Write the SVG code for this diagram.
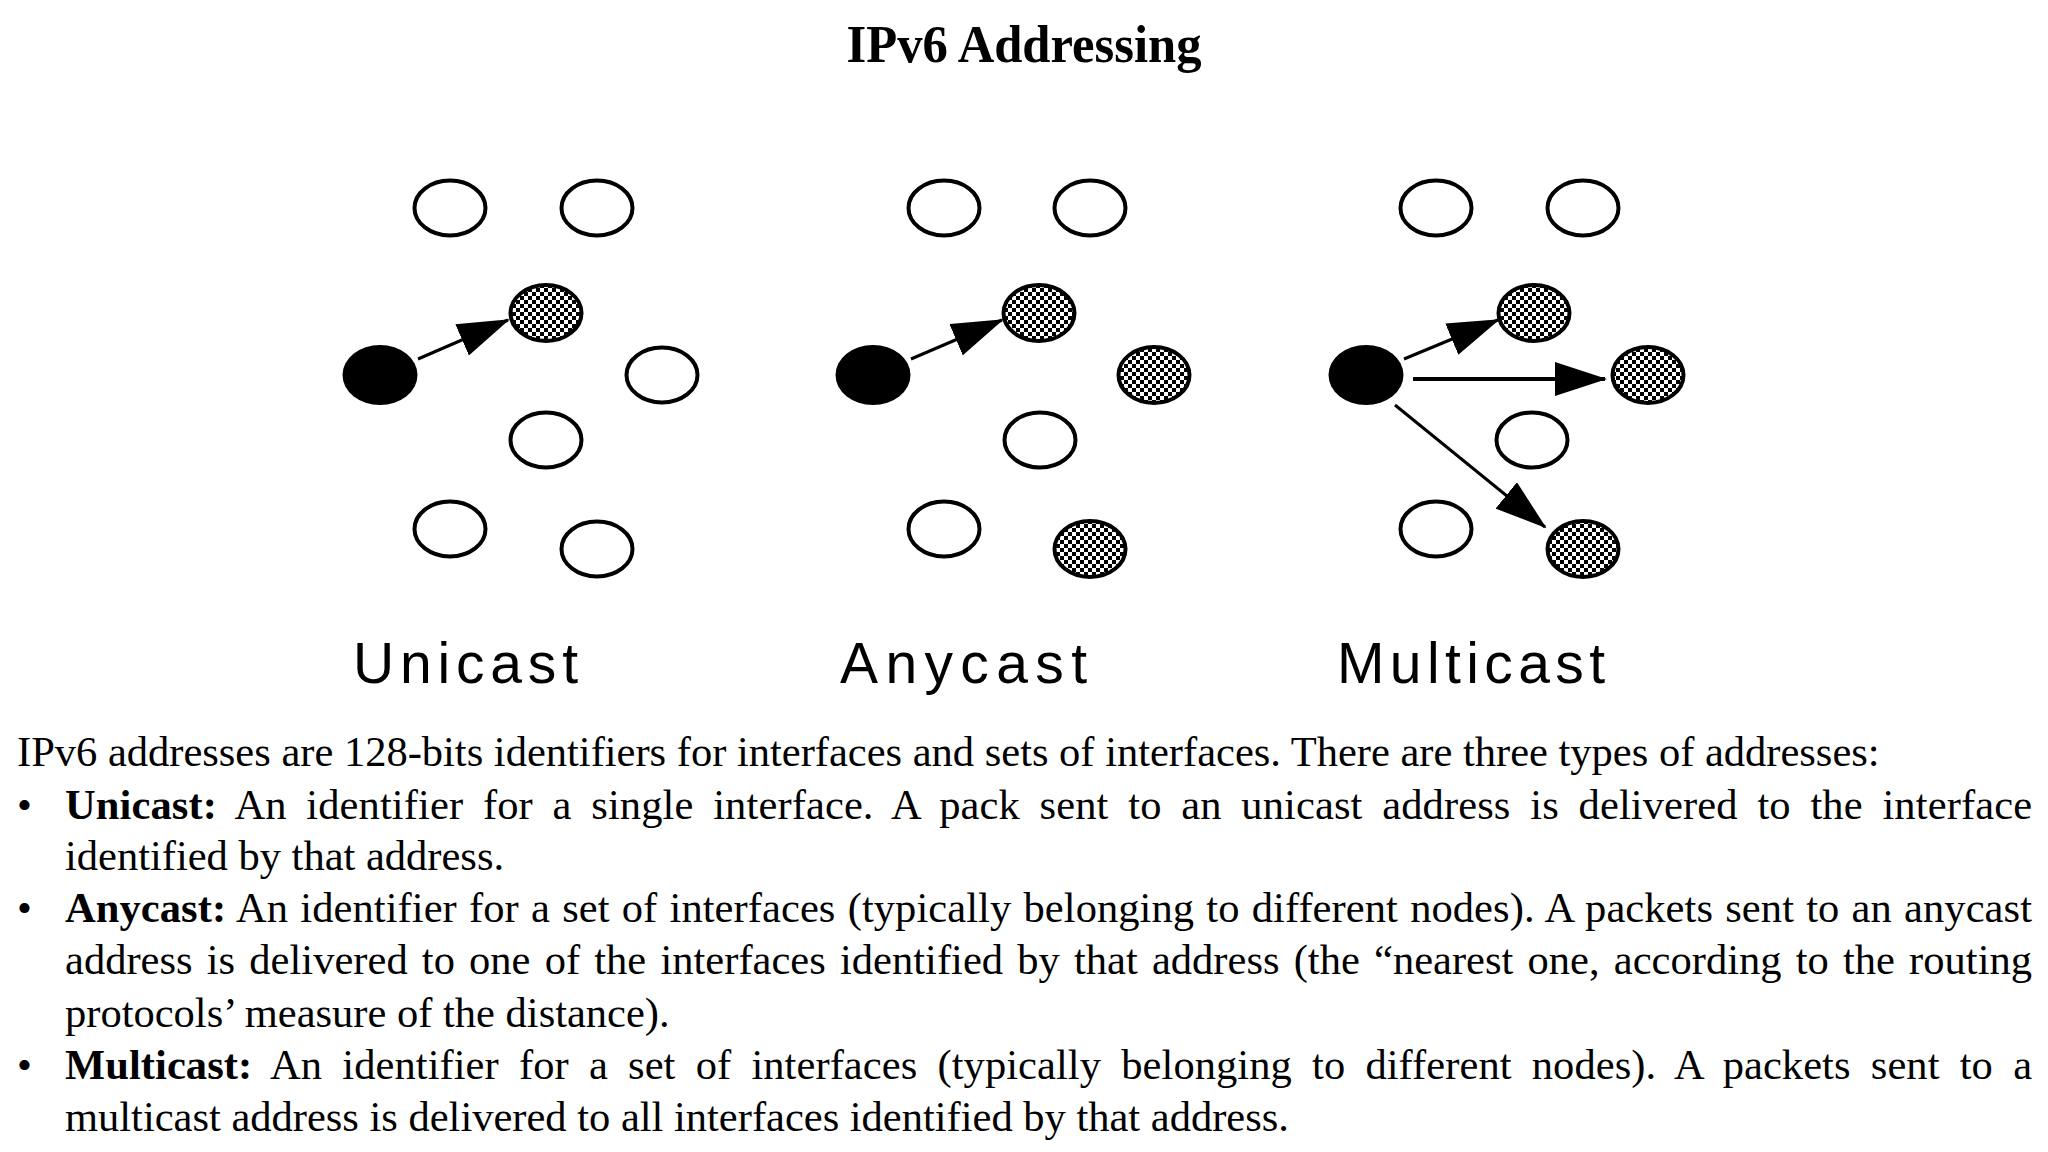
<svg xmlns="http://www.w3.org/2000/svg" width="2048" height="1152" viewBox="0 0 2048 1152">
<style>
.open{fill:#fff;stroke:#000;stroke-width:4}
.src{fill:#000}
.dst{fill:url(#chk);stroke:#000;stroke-width:4}
.conn{stroke:#000;stroke-width:3;fill:none;marker-end:url(#ah)}
.title{font-family:"Liberation Serif","Times New Roman",serif;font-weight:bold;font-size:52px;text-anchor:middle}
.lbl{font-family:"Liberation Sans",Arial,sans-serif;font-size:57px}
.body{font-family:"Liberation Serif","Times New Roman",serif;font-size:42.5px}
.b{font-weight:bold}
</style>
<defs>
<pattern id="chk" width="8" height="8" patternUnits="userSpaceOnUse">
<rect width="8" height="8" fill="#fff"/>
<rect width="4" height="4" fill="#000"/>
<rect x="4" y="4" width="4" height="4" fill="#000"/>
</pattern>
<marker id="ah" markerUnits="userSpaceOnUse" viewBox="0 0 52 34" markerWidth="52" markerHeight="34" refX="50" refY="17" orient="auto">
<path d="M0,0 L52,17 L0,34 Z" fill="#000"/>
</marker>
</defs>
<rect width="2048" height="1152" fill="#fff"/>
<text class="title" x="1024" y="62" textLength="355" lengthAdjust="spacingAndGlyphs">IPv6 Addressing</text>

<g id="connectors">
<line class="conn" x1="418" y1="359" x2="508" y2="320"/>
<line class="conn" x1="911" y1="359" x2="1002" y2="320"/>
<line class="conn" x1="1404" y1="359" x2="1498" y2="320"/>
<line class="conn" style="stroke-width:4" x1="1413" y1="379" x2="1605" y2="379"/>
<line class="conn" x1="1395" y1="405" x2="1545" y2="527"/>
</g>

<g id="unicast">
<g id="u-tl"><ellipse class="open" cx="450" cy="208" rx="35.5" ry="27.5"/></g>
<g id="u-tr"><ellipse class="open" cx="597" cy="208" rx="35.5" ry="27.5"/></g>
<g id="u-dst"><ellipse class="dst" cx="546" cy="313" rx="35.5" ry="28"/></g>
<g id="u-src"><ellipse class="src" cx="380" cy="375" rx="37.5" ry="30"/></g>
<g id="u-r"><ellipse class="open" cx="662" cy="375" rx="35.5" ry="27.5"/></g>
<g id="u-m"><ellipse class="open" cx="546" cy="440" rx="35.5" ry="27.5"/></g>
<g id="u-bl"><ellipse class="open" cx="450" cy="529" rx="35.5" ry="27.5"/></g>
<g id="u-br"><ellipse class="open" cx="597" cy="549" rx="35.5" ry="27.5"/></g>
<text class="lbl" x="353" y="683" textLength="225" lengthAdjust="spacing">Unicast</text>
</g>

<g id="anycast">
<g id="a-tl"><ellipse class="open" cx="944" cy="208" rx="35.5" ry="27.5"/></g>
<g id="a-tr"><ellipse class="open" cx="1090" cy="208" rx="35.5" ry="27.5"/></g>
<g id="a-dst"><ellipse class="dst" cx="1039" cy="313" rx="35.5" ry="28"/></g>
<g id="a-src"><ellipse class="src" cx="873" cy="375" rx="37.5" ry="30"/></g>
<g id="a-r"><ellipse class="dst" cx="1154" cy="375" rx="35.5" ry="28"/></g>
<g id="a-m"><ellipse class="open" cx="1040" cy="440" rx="35.5" ry="27.5"/></g>
<g id="a-bl"><ellipse class="open" cx="944" cy="529" rx="35.5" ry="27.5"/></g>
<g id="a-br"><ellipse class="dst" cx="1090" cy="549" rx="35.5" ry="28"/></g>
<text class="lbl" x="840" y="683" textLength="247" lengthAdjust="spacing">Anycast</text>
</g>

<g id="multicast">
<g id="m-tl"><ellipse class="open" cx="1436" cy="208" rx="35.5" ry="27.5"/></g>
<g id="m-tr"><ellipse class="open" cx="1583" cy="208" rx="35.5" ry="27.5"/></g>
<g id="m-dst1"><ellipse class="dst" cx="1534" cy="313" rx="35.5" ry="28"/></g>
<g id="m-src"><ellipse class="src" cx="1366" cy="375" rx="37.5" ry="30"/></g>
<g id="m-dst2"><ellipse class="dst" cx="1648" cy="375" rx="35.5" ry="28"/></g>
<g id="m-m"><ellipse class="open" cx="1532" cy="440" rx="35.5" ry="27.5"/></g>
<g id="m-bl"><ellipse class="open" cx="1436" cy="529" rx="35.5" ry="27.5"/></g>
<g id="m-dst3"><ellipse class="dst" cx="1583" cy="549" rx="35.5" ry="28"/></g>
<text class="lbl" x="1337" y="683" textLength="268" lengthAdjust="spacing">Multicast</text>
</g>

<g id="description" class="body">
<text x="17" y="766">IPv6 addresses are 128-bits identifiers for interfaces and sets of interfaces. There are three types of addresses:</text>
<text x="17" y="819">•</text>
<text x="65" y="819" style="word-spacing:9px" textLength="1967" lengthAdjust="spacing"><tspan class="b">Unicast:</tspan> An identifier for a single interface. A pack sent to an unicast address is delivered to the interface</text>
<text x="65" y="870">identified by that address.</text>
<text x="17" y="922">•</text>
<text x="65" y="922" style="word-spacing:1.5px" textLength="1967" lengthAdjust="spacing"><tspan class="b">Anycast:</tspan> An identifier for a set of interfaces (typically belonging to different nodes). A packets sent to an anycast</text>
<text x="65" y="974" style="word-spacing:3.5px" textLength="1967" lengthAdjust="spacing">address is delivered to one of the interfaces identified by that address (the “nearest one, according to the routing</text>
<text x="65" y="1027">protocols’ measure of the distance).</text>
<text x="17" y="1079">•</text>
<text x="65" y="1079" style="word-spacing:9.5px" textLength="1967" lengthAdjust="spacing"><tspan class="b">Multicast:</tspan> An identifier for a set of interfaces (typically belonging to different nodes). A packets sent to a</text>
<text x="65" y="1131">multicast address is delivered to all interfaces identified by that address.</text>
</g>
</svg>
